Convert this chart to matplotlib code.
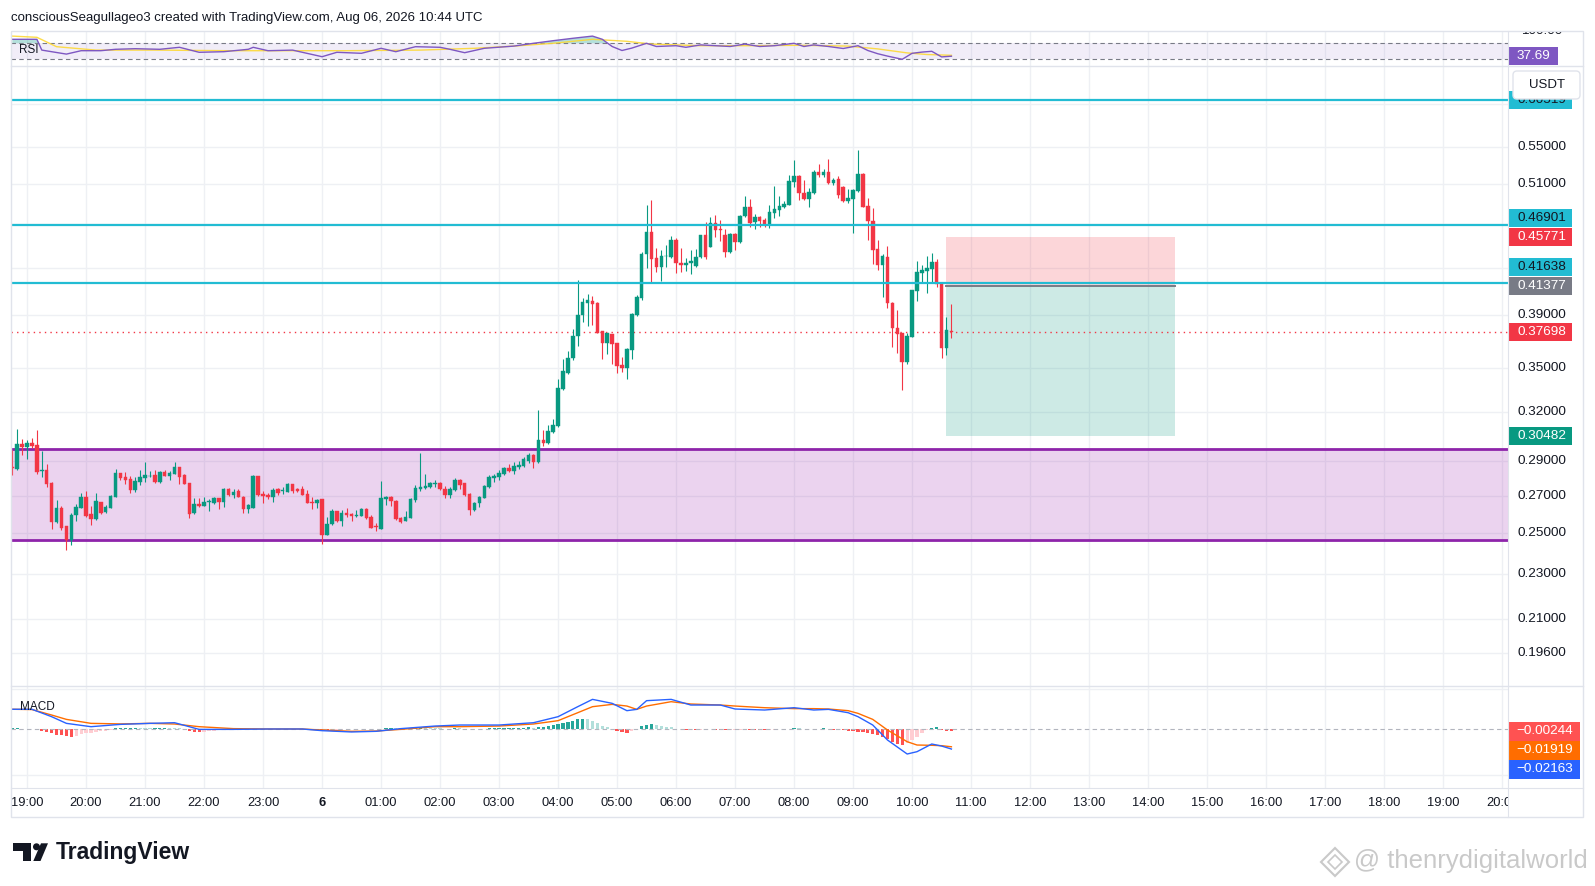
import matplotlib

matplotlib.use("Agg")
import matplotlib.pyplot as plt
from matplotlib.patches import Rectangle, Polygon, Circle, FancyBboxPatch
from matplotlib.ticker import FixedLocator, NullLocator
import numpy as np

plt.rcParams["font.family"] = ["Liberation Sans", "DejaVu Sans"]

# * 5-minute candles, 18:45 -> 10:40 (index 0 = 18:45)
opens = [
    0.2862, 0.2850, 0.2999, 0.2979, 0.3007, 0.2993, 0.2840, 0.2844, 0.2772, 0.2559,
    0.2633, 0.2536, 0.2465, 0.2594, 0.2633, 0.2690, 0.2600, 0.2573, 0.2664, 0.2609,
    0.2633, 0.2693, 0.2829, 0.2802, 0.2793, 0.2730, 0.2777, 0.2800, 0.2810, 0.2813,
    0.2776, 0.2834, 0.2810, 0.2821, 0.2860, 0.2815, 0.2768, 0.2604, 0.2654, 0.2643,
    0.2664, 0.2657, 0.2686, 0.2666, 0.2736, 0.2702, 0.2726, 0.2691, 0.2627, 0.2635,
    0.2810, 0.2708, 0.2704, 0.2693, 0.2734, 0.2725, 0.2721, 0.2764, 0.2734, 0.2734,
    0.2708, 0.2666, 0.2662, 0.2679, 0.2490, 0.2547, 0.2617, 0.2564, 0.2604, 0.2602,
    0.2589, 0.2591, 0.2627, 0.2585, 0.2536, 0.2523, 0.2682, 0.2690, 0.2671, 0.2580,
    0.2564, 0.2580, 0.2675, 0.2734, 0.2741, 0.2745, 0.2764, 0.2770, 0.2738, 0.2702,
    0.2730, 0.2787, 0.2768, 0.2708, 0.2621, 0.2660, 0.2688, 0.2745, 0.2797, 0.2806,
    0.2821, 0.2856, 0.2840, 0.2864, 0.2869, 0.2897, 0.2933, 0.2889, 0.3024, 0.3006,
    0.3074, 0.3111, 0.3356, 0.3467, 0.3574, 0.3738, 0.3902, 0.4002, 0.4018, 0.4002,
    0.3780, 0.3683, 0.3755, 0.3688, 0.3524, 0.3505, 0.3634, 0.3902, 0.4038, 0.4419,
    0.4623, 0.4381, 0.4306, 0.4398, 0.4395, 0.4548, 0.4343, 0.4320, 0.4337, 0.4315,
    0.4389, 0.4595, 0.4486, 0.4706, 0.4651, 0.4595, 0.4441, 0.4602, 0.4533, 0.4776,
    0.4868, 0.4722, 0.4770, 0.4738, 0.4690, 0.4809, 0.4835, 0.4868, 0.4888, 0.5123,
    0.5184, 0.5009, 0.4945, 0.5009, 0.5226, 0.5194, 0.5226, 0.5106, 0.5148, 0.5071,
    0.4928, 0.4942, 0.5030, 0.5205, 0.4875, 0.4731, 0.4462, 0.4322, 0.4395, 0.4002,
    0.3798, 0.3760, 0.3543, 0.3734, 0.4101, 0.4255, 0.4272, 0.4284, 0.4348, 0.4158,
    0.3646, 0.3778,
]
highs = [
    0.2963, 0.3092, 0.3028, 0.3024, 0.3034, 0.3086, 0.2959, 0.2879, 0.2777, 0.2675,
    0.2643, 0.2536, 0.2607, 0.2654, 0.2712, 0.2726, 0.2643, 0.2712, 0.2667, 0.2648,
    0.2702, 0.2850, 0.2829, 0.2834, 0.2810, 0.2802, 0.2844, 0.2891, 0.2840, 0.2844,
    0.2840, 0.2844, 0.2840, 0.2891, 0.2864, 0.2821, 0.2772, 0.2684, 0.2684, 0.2693,
    0.2681, 0.2693, 0.2688, 0.2740, 0.2740, 0.2734, 0.2734, 0.2697, 0.2654, 0.2815,
    0.2810, 0.2726, 0.2715, 0.2740, 0.2740, 0.2745, 0.2768, 0.2764, 0.2743, 0.2753,
    0.2730, 0.2690, 0.2681, 0.2682, 0.2585, 0.2625, 0.2617, 0.2621, 0.2635, 0.2607,
    0.2621, 0.2633, 0.2630, 0.2594, 0.2551, 0.2783, 0.2698, 0.2698, 0.2675, 0.2585,
    0.2616, 0.2684, 0.2758, 0.2947, 0.2821, 0.2776, 0.2787, 0.2774, 0.2755, 0.2745,
    0.2797, 0.2791, 0.2772, 0.2712, 0.2667, 0.2698, 0.2760, 0.2815, 0.2821, 0.2844,
    0.2860, 0.2879, 0.2891, 0.2899, 0.2919, 0.2943, 0.2939, 0.3213, 0.3086, 0.3117,
    0.3156, 0.3424, 0.3567, 0.3626, 0.3793, 0.4192, 0.4043, 0.4074, 0.4057, 0.4006,
    0.3780, 0.3765, 0.3755, 0.3688, 0.3580, 0.3651, 0.3921, 0.4066, 0.4440, 0.4885,
    0.4935, 0.4471, 0.4456, 0.4502, 0.4585, 0.4563, 0.4471, 0.4387, 0.4456, 0.4462,
    0.4595, 0.4715, 0.4764, 0.4786, 0.4738, 0.4649, 0.4611, 0.4611, 0.4786, 0.4974,
    0.4942, 0.4795, 0.4776, 0.4754, 0.4885, 0.5078, 0.4974, 0.4928, 0.5194, 0.5355,
    0.5194, 0.5141, 0.5054, 0.5247, 0.5311, 0.5254, 0.5362, 0.5159, 0.5184, 0.5078,
    0.5044, 0.5044, 0.5465, 0.5212, 0.4952, 0.4852, 0.4548, 0.4424, 0.4493, 0.4010,
    0.3942, 0.3760, 0.3760, 0.4107, 0.4360, 0.4322, 0.4401, 0.4432, 0.4372, 0.4163,
    0.3889, 0.3990,
]
lows = [
    0.2815, 0.2844, 0.2933, 0.2909, 0.2973, 0.2821, 0.2806, 0.2749, 0.2521, 0.2554,
    0.2519, 0.2416, 0.2440, 0.2564, 0.2630, 0.2582, 0.2542, 0.2571, 0.2598, 0.2604,
    0.2630, 0.2690, 0.2787, 0.2762, 0.2715, 0.2721, 0.2758, 0.2777, 0.2802, 0.2772,
    0.2772, 0.2810, 0.2787, 0.2821, 0.2762, 0.2762, 0.2577, 0.2600, 0.2639, 0.2643,
    0.2616, 0.2654, 0.2625, 0.2639, 0.2697, 0.2684, 0.2690, 0.2604, 0.2604, 0.2630,
    0.2698, 0.2660, 0.2680, 0.2667, 0.2702, 0.2706, 0.2719, 0.2715, 0.2721, 0.2702,
    0.2660, 0.2625, 0.2633, 0.2445, 0.2490, 0.2542, 0.2559, 0.2536, 0.2585, 0.2564,
    0.2585, 0.2591, 0.2573, 0.2526, 0.2512, 0.2521, 0.2646, 0.2643, 0.2571, 0.2551,
    0.2564, 0.2577, 0.2667, 0.2726, 0.2738, 0.2741, 0.2749, 0.2730, 0.2688, 0.2688,
    0.2726, 0.2738, 0.2698, 0.2594, 0.2617, 0.2639, 0.2684, 0.2740, 0.2777, 0.2787,
    0.2815, 0.2833, 0.2821, 0.2850, 0.2864, 0.2883, 0.2858, 0.2883, 0.2989, 0.3000,
    0.3068, 0.3105, 0.3349, 0.3458, 0.3560, 0.3665, 0.3850, 0.3818, 0.3823, 0.3765,
    0.3568, 0.3605, 0.3530, 0.3469, 0.3476, 0.3427, 0.3565, 0.3894, 0.4024, 0.4293,
    0.4178, 0.4263, 0.4185, 0.4306, 0.4381, 0.4250, 0.4263, 0.4272, 0.4241, 0.4306,
    0.4381, 0.4372, 0.4481, 0.4573, 0.4542, 0.4389, 0.4427, 0.4456, 0.4524, 0.4764,
    0.4674, 0.4649, 0.4674, 0.4668, 0.4659, 0.4754, 0.4776, 0.4851, 0.4885, 0.5071,
    0.4935, 0.4935, 0.4861, 0.4996, 0.5176, 0.5176, 0.5099, 0.5088, 0.4952, 0.4918,
    0.4902, 0.4617, 0.5020, 0.4861, 0.4548, 0.4330, 0.4278, 0.4051, 0.3955, 0.3657,
    0.3612, 0.3349, 0.3532, 0.3730, 0.4019, 0.4177, 0.4080, 0.4163, 0.4136, 0.3574,
    0.3598, 0.3725,
]
closes = [
    0.2858, 0.2999, 0.2979, 0.3007, 0.2987, 0.2834, 0.2844, 0.2764, 0.2559, 0.2633,
    0.2528, 0.2465, 0.2594, 0.2639, 0.2690, 0.2589, 0.2573, 0.2670, 0.2604, 0.2639,
    0.2697, 0.2829, 0.2800, 0.2787, 0.2730, 0.2783, 0.2802, 0.2813, 0.2812, 0.2776,
    0.2834, 0.2810, 0.2829, 0.2860, 0.2806, 0.2764, 0.2600, 0.2654, 0.2643, 0.2664,
    0.2670, 0.2686, 0.2664, 0.2736, 0.2702, 0.2719, 0.2690, 0.2627, 0.2646, 0.2810,
    0.2702, 0.2697, 0.2693, 0.2730, 0.2712, 0.2730, 0.2764, 0.2726, 0.2726, 0.2704,
    0.2660, 0.2662, 0.2675, 0.2490, 0.2547, 0.2617, 0.2564, 0.2604, 0.2593, 0.2589,
    0.2594, 0.2627, 0.2580, 0.2528, 0.2530, 0.2686, 0.2690, 0.2671, 0.2575, 0.2559,
    0.2585, 0.2681, 0.2743, 0.2745, 0.2753, 0.2768, 0.2770, 0.2734, 0.2702, 0.2738,
    0.2787, 0.2758, 0.2702, 0.2621, 0.2660, 0.2690, 0.2755, 0.2802, 0.2810, 0.2829,
    0.2856, 0.2838, 0.2868, 0.2875, 0.2909, 0.2935, 0.2891, 0.3024, 0.3007, 0.3080,
    0.3117, 0.3363, 0.3483, 0.3574, 0.3738, 0.3902, 0.4010, 0.4024, 0.3991, 0.3765,
    0.3683, 0.3765, 0.3678, 0.3517, 0.3505, 0.3642, 0.3910, 0.4052, 0.4419, 0.4623,
    0.4375, 0.4306, 0.4401, 0.4403, 0.4548, 0.4337, 0.4320, 0.4337, 0.4360, 0.4389,
    0.4595, 0.4395, 0.4706, 0.4642, 0.4640, 0.4441, 0.4602, 0.4533, 0.4776, 0.4868,
    0.4706, 0.4764, 0.4728, 0.4690, 0.4818, 0.4842, 0.4875, 0.4895, 0.5134, 0.5184,
    0.5003, 0.4945, 0.5019, 0.5226, 0.5194, 0.5226, 0.5106, 0.5141, 0.4986, 0.4928,
    0.4952, 0.5037, 0.5205, 0.4868, 0.4728, 0.4456, 0.4322, 0.4401, 0.3997, 0.3798,
    0.3755, 0.3543, 0.3740, 0.4107, 0.4261, 0.4278, 0.4296, 0.4348, 0.4158, 0.3646,
    0.3785, 0.37698,
]

rsi_idx = [0, 5, 6, 8, 11, 14, 18, 21, 25, 30, 34, 38, 43, 48, 49, 52, 57, 63, 66, 71,
           75, 78, 82, 87, 89, 92, 96, 102, 106, 110, 114, 118, 120, 122, 124, 126, 129,
           131, 135, 137, 140, 143, 146, 149, 152, 155, 159, 161, 163, 166, 169, 172,
           174, 176, 178, 181, 183, 185, 187, 189, 191]
rsi_val = [80, 80, 53, 49, 43, 51.5, 51.5, 55, 56.5, 55, 60, 47.5, 49, 55, 60, 51.5, 53,
           36.5, 47.5, 45, 57.5, 49, 61.5, 60, 55, 46.5, 57.5, 63, 70, 76.5, 82.5, 88, 80,
           62, 52, 58, 70, 62, 64, 60, 66, 64, 62, 68, 62, 64, 70, 62, 66, 62, 57, 64, 52,
           44, 38, 30, 45, 48, 50, 36, 37.69]
rsi_ma_idx = [0, 5, 9, 17, 29, 44, 68, 83, 94, 102, 110, 118, 125, 130, 140, 150, 160,
              170, 176, 182, 186, 191]
rsi_ma_val = [88, 85, 61.5, 53, 53, 51.5, 51.5, 53, 57.5, 63, 70, 80, 75, 68, 64, 64, 65,
              63, 56, 46, 42, 40]

# * MACD lines (sampled) and histogram (per candle)
macd_idx = [0, 4, 8, 11, 16, 22, 28, 33, 38, 45, 52, 59, 63, 69, 74, 79, 86, 91, 99, 106,
            111, 115, 118, 122, 125, 127, 129, 134, 138, 144, 147, 153, 159, 163, 166,
            170, 172, 175, 178, 182, 184, 187, 189, 191]
macd_val = [0.0213, 0.0213, 0.0133, 0.0061, 0.0025, 0.0050, 0.0061, 0.0068, -0.0004,
            -0.0004, 0.0, 0.0, -0.0018, -0.0032, -0.0025, 0.0004, 0.0032, 0.0043, 0.0043,
            0.0068, 0.0133, 0.0241, 0.0320, 0.0277, 0.0198, 0.0212, 0.0306, 0.0320,
            0.0259, 0.0259, 0.0216, 0.0205, 0.0230, 0.0205, 0.0212, 0.0176, 0.0133,
            0.0043, -0.0119, -0.0270, -0.0245, -0.0162, -0.0184, -0.02163]
signal_val = [0.0213, 0.0210, 0.0151, 0.0104, 0.0061, 0.0055, 0.0061, 0.0054, 0.0025,
              0.0004, 0.0, 0.0, -0.0011, -0.0025, -0.0022, -0.0004, 0.0025, 0.0025,
              0.0032, 0.0054, 0.0090, 0.0176, 0.0241, 0.0266, 0.0248, 0.0212, 0.0248,
              0.0295, 0.0270, 0.0259, 0.0248, 0.0230, 0.0220, 0.0220, 0.0216, 0.0198,
              0.0169, 0.0104, -0.0011, -0.0137, -0.0173, -0.0176, -0.0180, -0.01919]
hist_val = [
    0.0010, 0.0012, 0.0005, 0.0, -0.0005, -0.0015, -0.0025, -0.0036, -0.0047, -0.0061,
    -0.0068, -0.0079, -0.0083, -0.0072, -0.0058, -0.0047, -0.0040, -0.0032, -0.0025, -0.0018,
    -0.0011, 0.0006, 0.0009, 0.0011, 0.0012, 0.0012, 0.0011, 0.0010, 0.0009, 0.0010,
    0.0012, 0.0013, 0.0012, 0.0010, 0.0006, 0.0002, -0.0020, -0.0030, -0.0033, -0.0030,
    -0.0025, -0.0020, -0.0015, -0.0010, -0.0006, -0.0003,
    0.0001, 0.0002, 0.0002, 0.0004, 0.0003, 0.0002, 0.0001, 0.0001, 0.0001, 0.0001,
    0.0002, 0.0001, 0.0, -0.0001,
    -0.0003, -0.0005, -0.0006, -0.0009, -0.0010, -0.0008, -0.0007, -0.0006, -0.0005, -0.0005,
    -0.0004, -0.0003, -0.0003, -0.0003, -0.0002, 0.0002,
    0.0008, 0.0010, 0.0008, 0.0006, 0.0006, 0.0009, 0.0012, 0.0014, 0.0013, 0.0012,
    0.0010, 0.0008, 0.0005, 0.0005, 0.0007, 0.0006, 0.0003, -0.0003, -0.0004, -0.0002,
    0.0003, 0.0008, 0.0010, 0.0011,
    0.0012, 0.0013, 0.0014, 0.0015, 0.0016, 0.0017, 0.0016, 0.0020, 0.0025, 0.0032,
    0.0043, 0.0054, 0.0068, 0.0079, 0.0090, 0.0104, 0.0108, 0.0104, 0.0090, 0.0061,
    0.0032, 0.0018,
    -0.0011, -0.0022, -0.0036, -0.0040, -0.0025, -0.0011,
    0.0032, 0.0043, 0.0050, 0.0043, 0.0032, 0.0025, 0.0018,
    0.0004, -0.0005, -0.0010, -0.0012, -0.0014, -0.0008, -0.0004, -0.0003, -0.0008, -0.0012,
    -0.0015, -0.0012, -0.0010, -0.0008, -0.0004, -0.0006, -0.0010, -0.0012, -0.0012, -0.0009,
    -0.0007, -0.0005, -0.0003, 0.0004, 0.0010, 0.0009, 0.0004, -0.0004, -0.0002, 0.0003,
    0.0006, 0.0004, -0.0006, -0.0010, -0.0014, -0.0018,
    -0.0022, -0.0028, -0.0036, -0.0045, -0.0058, -0.0068, -0.0085, -0.0110, -0.0140, -0.0160,
    -0.0173,
    -0.0155, -0.0120, -0.0085, -0.0045, -0.0015,
    0.0015, 0.0018, -0.0010, -0.0020, -0.00244,
]

# * drawings
cyan_levels = [0.60519, 0.46901, 0.41638]
zone_top, zone_bottom = 0.2968, 0.2466
pos_stop, pos_entry, pos_target = 0.45771, 0.41377, 0.30482
pos_start, pos_end = 190, 236.5
rsi_last = 37.69

price_ticks = [0.55, 0.51, 0.39, 0.35, 0.32, 0.29, 0.27, 0.25, 0.23, 0.21, 0.196]
grid_prices = [0.60, 0.55, 0.51, 0.47, 0.43, 0.39, 0.35, 0.32, 0.29, 0.27, 0.25, 0.23,
               0.21, 0.196]
hour_labels = ["19:00", "20:00", "21:00", "22:00", "23:00", "6", "01:00", "02:00",
               "03:00", "04:00", "05:00", "06:00", "07:00", "08:00", "09:00", "10:00",
               "11:00", "12:00", "13:00", "14:00", "15:00", "16:00", "17:00", "18:00",
               "19:00", "20:00"]
hour_idx = [3 + 12 * k for k in range(len(hour_labels))]

title = "consciousSeagullageo3 created with TradingView.com, Aug 06, 2026 10:44 UTC"

GREEN = "#089981"
RED = "#f23645"
CYAN = "#22bcd3"
PURPLE = "#8e24aa"
TXT = "#131722"
GRID = "#eef0f4"
BORDER = "#e0e3eb"

W, H = 1595, 886
fig = plt.figure(figsize=(W / 100, H / 100), dpi=100)
fig.patch.set_facecolor("white")


def px_axes(x0, y0, x1, y1):
    return fig.add_axes([x0 / W, 1 - y1 / H, (x1 - x0) / W, (y1 - y0) / H])


XL, XR = -0.264, 304.2

ax_r = px_axes(11, 31, 1508, 66)
ax = px_axes(11, 66, 1508, 686)
ax_m = px_axes(11, 686, 1508, 788)

for a in (ax_r, ax, ax_m):
    a.set_xlim(XL, XR)
    a.set_xticks(hour_idx)
    a.tick_params(length=0, labelleft=False, labelbottom=False)
    for s in a.spines.values():
        s.set_visible(False)
    a.grid(axis="x", color=GRID, lw=1)
    a.set_axisbelow(True)

# * main panel
ax.set_yscale("log")
ax.set_ylim(0.18306, 0.6487)
ax.yaxis.set_major_locator(FixedLocator(grid_prices))
ax.yaxis.set_minor_locator(NullLocator())
ax.tick_params(which="both", length=0, labelleft=False, labelbottom=False)
ax.grid(axis="y", color=GRID, lw=1)

idx = np.arange(len(closes))
o = np.array(opens)
c = np.array(closes)
colors = np.where(c >= o, GREEN, RED)

ax.axhspan(zone_bottom, zone_top, color="#9c27b0", alpha=0.2, lw=0, zorder=1)
ax.axhline(zone_top, color=PURPLE, lw=2, zorder=2)
ax.axhline(zone_bottom, color=PURPLE, lw=2, zorder=2)

ax.fill_between([pos_start, pos_end], pos_entry, pos_stop, color=RED, alpha=0.2,
                lw=0, zorder=1.5)
ax.fill_between([pos_start, pos_end], pos_target, pos_entry, color=GREEN, alpha=0.2,
                lw=0, zorder=1.5)
ax.plot([pos_start, pos_end], [pos_entry, pos_entry], color="#787b86", lw=1.4,
        zorder=1.6)

ax.axhline(closes[-1], color=RED, lw=1, ls=(0, (1, 3)), zorder=2)

ax.vlines(idx, lows, highs, colors=colors, lw=0.8, zorder=3)
ax.bar(idx, np.abs(c - o), bottom=np.minimum(o, c), width=0.72, color=colors,
       edgecolor=colors, lw=0.3, zorder=3)

for lv in cyan_levels:
    ax.axhline(lv, color=CYAN, lw=1.6, zorder=4)

# * RSI panel
ax_r.set_ylim(13.25, 100.75)
ax_r.axhspan(30, 70, color="#7e57c2", alpha=0.1, lw=0)
ax_r.axhline(70, color="#787b86", lw=0.8, dashes=(4, 3))
ax_r.axhline(30, color="#787b86", lw=0.8, dashes=(4, 3))
rv = np.array(rsi_val)
ax_r.fill_between(rsi_idx, 70, rv, where=rv > 70, interpolate=True, color="#26a69a",
                  alpha=0.35, lw=0)
ax_r.plot(rsi_ma_idx, rsi_ma_val, color="#fdd835", lw=1, alpha=0.9)
ax_r.plot(rsi_idx, rsi_val, color="#7e57c2", lw=1)

# * MACD panel
ax_m.set_ylim(-0.06371, 0.04644)
ax_m.yaxis.set_major_locator(FixedLocator([0.043, -0.050]))
ax_m.grid(axis="y", color=GRID, lw=1)
ax_m.axhline(0, color="#b2b5be", lw=0.8, dashes=(4, 3))
hist_colors = []
prev = 0.0
for h in hist_val:
    if h >= 0:
        hist_colors.append("#26a69a" if h >= prev else "#b2dfdb")
    else:
        hist_colors.append("#ff5252" if h <= prev else "#ffcdd2")
    prev = h
ax_m.bar(idx, hist_val, width=0.66, color=hist_colors, lw=0)
ax_m.plot(macd_idx, signal_val, color="#ff6d00", lw=1)
ax_m.plot(macd_idx, macd_val, color="#2962ff", lw=1)

# * overlay in pixel coordinates: price scale, labels, frame
ov = fig.add_axes([0, 0, 1, 1], zorder=10)
ov.set_xlim(0, W)
ov.set_ylim(H, 0)
ov.axis("off")


def ypix(a, v):
    return H - a.transData.transform((0, v))[1]


def xpix(a, v):
    return a.transData.transform((v, 0))[0]


for p in price_ticks:
    ov.text(1542, ypix(ax, p), f"{p:.5f}", ha="center", va="center", fontsize=9.7,
            color=TXT)

main_labels = [
    (pos_target, "#089981", "white"),
    (closes[-1], RED, "white"),
    (pos_entry, "#787b86", "white"),
    (cyan_levels[2], CYAN, TXT),
    (pos_stop, RED, "white"),
    (cyan_levels[1], CYAN, TXT),
    (cyan_levels[0], CYAN, TXT),
]
last_y = None
for val, fc, tc in main_labels:
    y = ypix(ax, val)
    if last_y is not None and y > last_y - 19.4:
        y = last_y - 19.4
    last_y = y
    ov.add_patch(Rectangle((1509, y - 9), 63, 18, fc=fc, ec="none", zorder=3))
    ov.text(1542, y, f"{val:.5f}", ha="center", va="center", fontsize=9.7, color=tc,
            zorder=4)

# * USDT box covers the top label
ov.add_patch(FancyBboxPatch((1513, 71), 67, 28, boxstyle="round,pad=0,rounding_size=4",
                            fc="white", ec=BORDER, lw=1, zorder=5))
ov.text(1546.5, 85, "USDT", ha="center", va="center", fontsize=9.5, color=TXT,
        zorder=6)

# * RSI scale
ov.text(1542, ypix(ax_r, 100), "100.00", ha="center", va="center", fontsize=9.7,
        color=TXT, zorder=3)
ov.add_patch(Rectangle((1508.5, 0), 80, 30.5, fc="white", ec="none", zorder=4))
yr = ypix(ax_r, rsi_last)
ov.add_patch(Rectangle((1509, yr - 9), 49, 18, fc="#7e57c2", ec="none", zorder=3))
ov.text(1533.5, yr, f"{rsi_last:.2f}", ha="center", va="center", fontsize=9.7,
        color="white", zorder=4)

# * MACD scale labels (stacked downward)
macd_labels = [
    (hist_val[-1], "#ff5252"),
    (signal_val[-1], "#ff6d00"),
    (macd_val[-1], "#2962ff"),
]
last_y = None
for val, fc in macd_labels:
    y = ypix(ax_m, val)
    if last_y is not None and y < last_y + 19:
        y = last_y + 19
    last_y = y
    ov.add_patch(Rectangle((1509, y - 9.5), 71, 19, fc=fc, ec="none", zorder=3))
    ov.text(1544.5, y, f"\u2212{abs(val):.5f}", ha="center", va="center", fontsize=9.7,
            color="white", zorder=4)

# * time axis
for k, lab in zip(hour_idx, hour_labels):
    ov.text(xpix(ax_m, k), 803, lab, ha="center", va="center", fontsize=9.3, color=TXT,
            fontweight="bold" if lab == "6" else "normal", zorder=3)
ov.add_patch(Rectangle((1508.5, 789), 74, 27, fc="white", ec="none", zorder=4))

# * frame and separators
ov.add_patch(Rectangle((11, 31), 1572, 786, fill=False, ec=BORDER, lw=1, zorder=6))
ov.plot([11, 1583], [66, 66], color=BORDER, lw=1, zorder=6)
ov.plot([11, 1583], [686, 686], color=BORDER, lw=1, zorder=6)
ov.plot([11, 1583], [788, 788], color=BORDER, lw=0.8, zorder=6)
ov.plot([1508, 1508], [31, 817], color=BORDER, lw=0.8, zorder=6)

# * panel legends
ov.text(19, 50, "RSI", ha="left", va="center", fontsize=8.5, color=TXT)
ov.text(20, 707, "MACD", ha="left", va="center", fontsize=8.5, color=TXT)

# * title
ov.text(11, 17.5, title, ha="left", va="center", fontsize=9.5, color=TXT)

# * TradingView logo
ov.add_patch(Polygon([(13.3, 843.3), (30.7, 843.3), (30.7, 861), (23.3, 861),
                      (23.3, 850.5), (13.3, 850.5)], closed=True, fc=TXT, ec="none"))
ov.add_patch(Circle((36.5, 846.8), 3.5, fc=TXT, ec="none"))
ov.add_patch(Polygon([(41, 843.3), (48, 843.3), (40.5, 861), (33.3, 861)], closed=True,
                     fc=TXT, ec="none"))
ov.text(56, 852, "TradingView", ha="left", va="center", fontsize=16.5, fontweight="bold",
        color=TXT)

# * watermark
WM = "#c9c9c9"
ov.add_patch(Polygon([(1335, 848), (1349, 862), (1335, 876), (1321, 862)], closed=True,
                     fill=False, ec=WM, lw=1.5))
ov.add_patch(Polygon([(1335, 855), (1342, 862), (1335, 869), (1328, 862)], closed=True,
                     fill=False, ec=WM, lw=1.2))
ov.text(1588, 861, "@ thenrydigitalworld", ha="right", va="center", fontsize=18.5,
        color=WM)

fig.savefig("out.png", dpi=100, facecolor="white")
plt.close(fig)
